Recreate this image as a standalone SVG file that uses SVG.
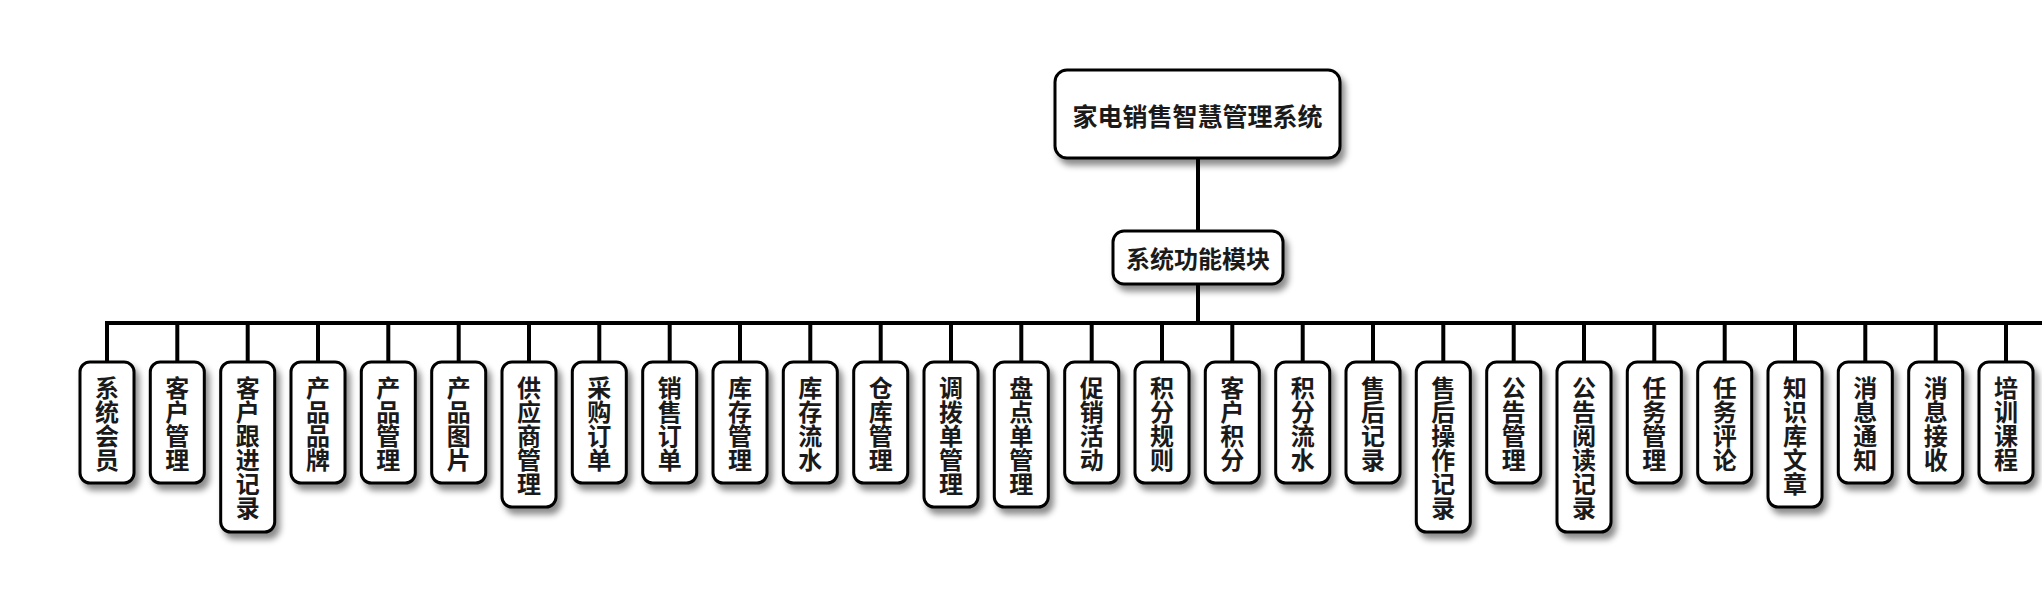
<svg xmlns="http://www.w3.org/2000/svg" width="2042" height="607" viewBox="0 0 2042 607">
<defs>
<filter id="sh" x="-30%" y="-30%" width="160%" height="160%">
<feDropShadow dx="4" dy="6" stdDeviation="3" flood-color="#000" flood-opacity="0.45"/>
</filter>
<style>
.box{fill:#fff;stroke:#000;stroke-width:3;filter:url(#sh)}
.t{font-family:"Noto Sans CJK SC","Noto Sans",sans-serif;font-weight:bold;font-size:24px;fill:#1a1a1a;text-anchor:middle;dominant-baseline:central}
.v{font-family:"Noto Sans CJK SC","Noto Sans",sans-serif;font-weight:bold;font-size:24px;fill:#1a1a1a;text-anchor:middle;writing-mode:vertical-rl;text-orientation:upright}
.ln{stroke:#000;stroke-width:4;fill:none}
</style>
</defs>
<rect width="2042" height="607" fill="#fff"/>
<g id="connectors">
<path class="ln" d="M1198 158V231M1198 284V323M105 323H2042"/>
<path class="ln" d="M107.0 323V362M177.3 323V362M247.7 323V362M318.0 323V362M388.3 323V362M458.7 323V362M529.0 323V362M599.3 323V362M669.7 323V362M740.0 323V362M810.3 323V362M880.7 323V362M951.0 323V362M1021.3 323V362M1091.7 323V362M1162.0 323V362M1232.3 323V362M1302.7 323V362M1373.0 323V362M1443.3 323V362M1513.7 323V362M1584.0 323V362M1654.3 323V362M1724.7 323V362M1795.0 323V362M1865.3 323V362M1935.7 323V362M2006.0 323V362"/>
</g>
<g id="root"><rect class="box" x="1055" y="70" width="285" height="88" rx="12"/><text class="t" x="1197.5" y="115" style="font-size:25px">家电销售智慧管理系统</text></g>
<g id="modules"><rect class="box" x="1113" y="231" width="170" height="53" rx="11"/><text class="t" x="1198" y="257">系统功能模块</text></g>
<g id="n1"><rect class="box" x="80.0" y="362" width="54" height="121" rx="10"/><text class="v" x="107.0" y="424">系统会员</text></g>
<g id="n2"><rect class="box" x="150.3" y="362" width="54" height="121" rx="10"/><text class="v" x="177.3" y="424">客户管理</text></g>
<g id="n3"><rect class="box" x="220.7" y="362" width="54" height="170" rx="10"/><text class="v" x="247.7" y="448">客户跟进记录</text></g>
<g id="n4"><rect class="box" x="291.0" y="362" width="54" height="121" rx="10"/><text class="v" x="318.0" y="424">产品品牌</text></g>
<g id="n5"><rect class="box" x="361.3" y="362" width="54" height="121" rx="10"/><text class="v" x="388.3" y="424">产品管理</text></g>
<g id="n6"><rect class="box" x="431.7" y="362" width="54" height="121" rx="10"/><text class="v" x="458.7" y="424">产品图片</text></g>
<g id="n7"><rect class="box" x="502.0" y="362" width="54" height="145" rx="10"/><text class="v" x="529.0" y="436">供应商管理</text></g>
<g id="n8"><rect class="box" x="572.3" y="362" width="54" height="121" rx="10"/><text class="v" x="599.3" y="424">采购订单</text></g>
<g id="n9"><rect class="box" x="642.7" y="362" width="54" height="121" rx="10"/><text class="v" x="669.7" y="424">销售订单</text></g>
<g id="n10"><rect class="box" x="713.0" y="362" width="54" height="121" rx="10"/><text class="v" x="740.0" y="424">库存管理</text></g>
<g id="n11"><rect class="box" x="783.3" y="362" width="54" height="121" rx="10"/><text class="v" x="810.3" y="424">库存流水</text></g>
<g id="n12"><rect class="box" x="853.7" y="362" width="54" height="121" rx="10"/><text class="v" x="880.7" y="424">仓库管理</text></g>
<g id="n13"><rect class="box" x="924.0" y="362" width="54" height="145" rx="10"/><text class="v" x="951.0" y="436">调拨单管理</text></g>
<g id="n14"><rect class="box" x="994.3" y="362" width="54" height="145" rx="10"/><text class="v" x="1021.3" y="436">盘点单管理</text></g>
<g id="n15"><rect class="box" x="1064.7" y="362" width="54" height="121" rx="10"/><text class="v" x="1091.7" y="424">促销活动</text></g>
<g id="n16"><rect class="box" x="1135.0" y="362" width="54" height="121" rx="10"/><text class="v" x="1162.0" y="424">积分规则</text></g>
<g id="n17"><rect class="box" x="1205.3" y="362" width="54" height="121" rx="10"/><text class="v" x="1232.3" y="424">客户积分</text></g>
<g id="n18"><rect class="box" x="1275.7" y="362" width="54" height="121" rx="10"/><text class="v" x="1302.7" y="424">积分流水</text></g>
<g id="n19"><rect class="box" x="1346.0" y="362" width="54" height="121" rx="10"/><text class="v" x="1373.0" y="424">售后记录</text></g>
<g id="n20"><rect class="box" x="1416.3" y="362" width="54" height="170" rx="10"/><text class="v" x="1443.3" y="448">售后操作记录</text></g>
<g id="n21"><rect class="box" x="1486.7" y="362" width="54" height="121" rx="10"/><text class="v" x="1513.7" y="424">公告管理</text></g>
<g id="n22"><rect class="box" x="1557.0" y="362" width="54" height="170" rx="10"/><text class="v" x="1584.0" y="448">公告阅读记录</text></g>
<g id="n23"><rect class="box" x="1627.3" y="362" width="54" height="121" rx="10"/><text class="v" x="1654.3" y="424">任务管理</text></g>
<g id="n24"><rect class="box" x="1697.7" y="362" width="54" height="121" rx="10"/><text class="v" x="1724.7" y="424">任务评论</text></g>
<g id="n25"><rect class="box" x="1768.0" y="362" width="54" height="145" rx="10"/><text class="v" x="1795.0" y="436">知识库文章</text></g>
<g id="n26"><rect class="box" x="1838.3" y="362" width="54" height="121" rx="10"/><text class="v" x="1865.3" y="424">消息通知</text></g>
<g id="n27"><rect class="box" x="1908.7" y="362" width="54" height="121" rx="10"/><text class="v" x="1935.7" y="424">消息接收</text></g>
<g id="n28"><rect class="box" x="1979.0" y="362" width="54" height="121" rx="10"/><text class="v" x="2006.0" y="424">培训课程</text></g>
</svg>
